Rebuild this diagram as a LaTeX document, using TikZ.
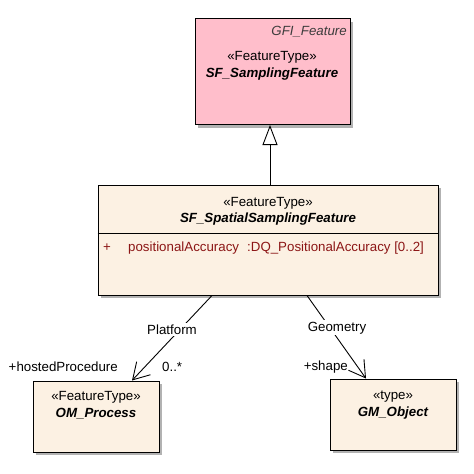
\documentclass[tikz,border=0pt]{standalone}
\usepackage{fontspec}
\setmainfont{Liberation Sans}
\usetikzlibrary{shadows,arrows.meta}
\definecolor{pinkfill}{RGB}{255,190,203}
\definecolor{creamfill}{RGB}{252,241,227}
\definecolor{attrred}{RGB}{140,22,22}
\definecolor{graytext}{RGB}{60,60,60}
\tikzset{
  umlbox/.style={draw=black, line width=1pt, inner sep=0pt,
    drop shadow={shadow xshift=3pt, shadow yshift=-3pt, fill=black!30, opacity=1}},
  txt/.style={inner sep=0pt, font=\fontsize{13.3}{16}\selectfont},
  nm/.style={txt, font=\fontsize{13.3}{16}\selectfont\bfseries\itshape},
  assoc/.style={draw=black, line width=0.9pt},
  openhead/.style={-{Straight Barb[length=16pt,width=19pt,line width=0.9pt]}},
  lbl/.style={txt, fill=white, inner sep=1.5pt},
}
\begin{document}
\begin{tikzpicture}[x=1pt,y=-1pt]
\useasboundingbox (0,0) rectangle (474,474);
% boxes
\node[umlbox, fill=pinkfill, minimum width=155pt, minimum height=106pt] (top) at (272.5,71.5) {};
\node[umlbox, fill=creamfill, minimum width=340pt, minimum height=110pt] (mid) at (268,240) {};
\node[umlbox, fill=creamfill, minimum width=126pt, minimum height=71pt] (proc) at (96,416.5) {};
\node[umlbox, fill=creamfill, minimum width=126pt, minimum height=71pt] (geo) at (393,414.5) {};
% divider
\coordinate (dl) at (mid.west |- 0,233);
\coordinate (dr) at (mid.east |- 0,233);
\draw[line width=0.9pt] (dl) -- (dr);
% top box texts
\node[txt, text=graytext, font=\fontsize{13.3}{16}\selectfont\itshape, anchor=east] (gfi) at (347,32) {GFI\_Feature};
\node[txt] (tst) at (272,57) {«FeatureType»};
\node[nm] (tnm) at (272,74) {SF\_SamplingFeature};
% mid box texts
\node[txt] (mst) at (268,203) {«FeatureType»};
\node[nm] (mnm) at (268,219) {SF\_SpatialSamplingFeature};
\node[txt, text=attrred] (plus) at (107,248) {+};
\node[txt, text=attrred, anchor=west] (attr) at (128,248) {positionalAccuracy};
\node[txt, text=attrred, anchor=west] (atyp) at (247,248) {:DQ\_PositionalAccuracy [0..2]};
% bottom box texts
\node[txt] (pst) at (96,397) {«FeatureType»};
\node[nm] (pnm) at (96,414) {OM\_Process};
\node[txt] (gst) at (393,397) {«type»};
\node[nm] (gnm) at (393,413) {GM\_Object};
% generalization
\coordinate (gs) at (mid.north -| 270,0);
\draw[line width=0.9pt, -{Triangle[open, length=20pt, width=15pt, line width=0.9pt]}, fill=white] (gs) -- (top.south -| 270,0);
% associations
\coordinate (ps) at (mid.south -| 212,0);
\coordinate (pe) at (proc.north -| 132,0);
\coordinate (gs2) at (mid.south -| 307,0);
\coordinate (ge) at (geo.north -| 366,0);
\draw[assoc, openhead] (ps) -- node[lbl, pos=0.4, xshift=-8pt] (plat) {Platform} (pe);
\draw[assoc, openhead] (gs2) -- node[lbl, pos=0.39, xshift=7pt] (geom) {Geometry} (ge);
% role labels
\node[txt, anchor=east] (hp) at (118,367) {+hostedProcedure};
\node[txt, anchor=west] (mult) at (162,367) {0..*};
\node[txt, anchor=east] (shp) at (348,367) {+shape};
\end{tikzpicture}
\end{document}
